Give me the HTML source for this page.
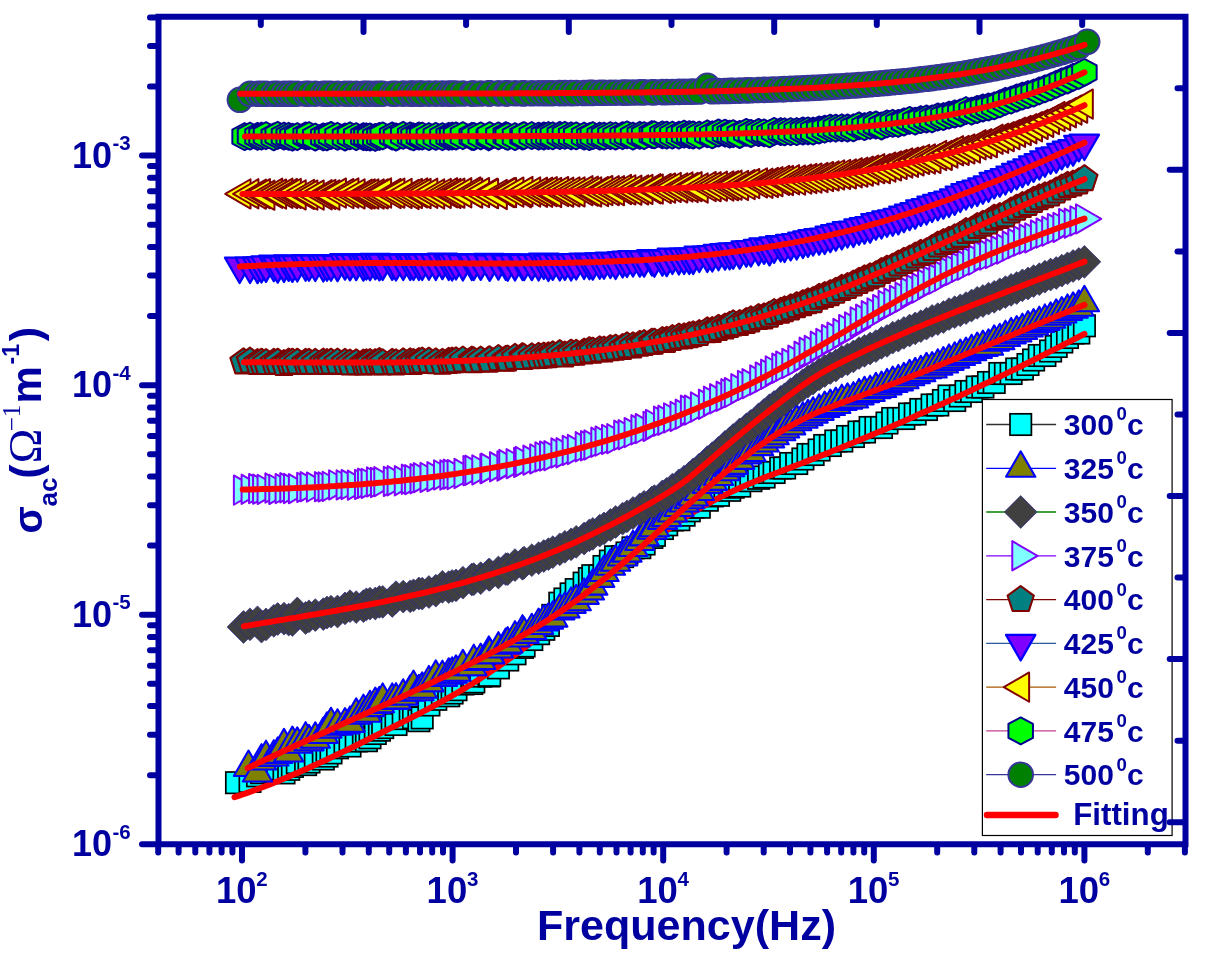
<!DOCTYPE html>
<html><head><meta charset="utf-8"><title>AC conductivity vs frequency</title><style>html,body{margin:0;padding:0;background:#fff}svg{display:block}</style></head><body>
<svg width="1205" height="967" viewBox="0 0 1205 967" font-family="'Liberation Sans', sans-serif" font-weight="bold" fill="#0000a0">
<rect width="1205" height="967" fill="#fff"/>
<defs>
<marker id="m300" markerWidth="1" markerHeight="1" refX="0" refY="0" markerUnits="userSpaceOnUse" overflow="visible"><g fill="#00ffff" stroke="#000000" stroke-width="1.7" stroke-linejoin="miter"><rect x="-10.7" y="-10.7" width="21.4" height="21.4"/></g></marker>
<g id="s300" fill="#00ffff" stroke="#000000" stroke-width="1.7" stroke-linejoin="miter"><rect x="-10.7" y="-10.7" width="21.4" height="21.4"/></g>
<marker id="m325" markerWidth="1" markerHeight="1" refX="0" refY="0" markerUnits="userSpaceOnUse" overflow="visible"><g fill="#808000" stroke="#0000ff" stroke-width="2.1" stroke-linejoin="round"><polygon points="0.00,-16.93 14.65,8.47 -14.65,8.47"/></g></marker>
<g id="s325" fill="#808000" stroke="#0000ff" stroke-width="2.1" stroke-linejoin="round"><polygon points="0.00,-16.93 14.65,8.47 -14.65,8.47"/></g>
<marker id="m350" markerWidth="1" markerHeight="1" refX="0" refY="0" markerUnits="userSpaceOnUse" overflow="visible"><g fill="#404040" stroke="#2a2a8c" stroke-width="0.7" stroke-linejoin="round"><polygon points="0.00,-16.40 16.40,0.00 0.00,16.40 -16.40,0.00"/></g></marker>
<g id="s350" fill="#404040" stroke="#2a2a8c" stroke-width="0.7" stroke-linejoin="round"><polygon points="0.00,-16.40 16.40,0.00 0.00,16.40 -16.40,0.00"/></g>
<marker id="m375" markerWidth="1" markerHeight="1" refX="0" refY="0" markerUnits="userSpaceOnUse" overflow="visible"><g fill="#80ffff" stroke="#8000ff" stroke-width="2.0" stroke-linejoin="round"><polygon points="16.87,0.00 -8.43,-14.65 -8.43,14.65"/></g></marker>
<g id="s375" fill="#80ffff" stroke="#8000ff" stroke-width="2.0" stroke-linejoin="round"><polygon points="16.87,0.00 -8.43,-14.65 -8.43,14.65"/></g>
<marker id="m400" markerWidth="1" markerHeight="1" refX="0" refY="0" markerUnits="userSpaceOnUse" overflow="visible"><g fill="#008080" stroke="#800000" stroke-width="2.1" stroke-linejoin="round"><polygon points="0.00,-13.60 13.12,-4.06 8.11,11.36 -8.11,11.36 -13.12,-4.06"/></g></marker>
<g id="s400" fill="#008080" stroke="#800000" stroke-width="2.1" stroke-linejoin="round"><polygon points="0.00,-13.60 13.12,-4.06 8.11,11.36 -8.11,11.36 -13.12,-4.06"/></g>
<marker id="m425" markerWidth="1" markerHeight="1" refX="0" refY="0" markerUnits="userSpaceOnUse" overflow="visible"><g fill="#8000ff" stroke="#0000ff" stroke-width="2.3" stroke-linejoin="round"><polygon points="0.00,16.93 14.65,-8.47 -14.65,-8.47"/></g></marker>
<g id="s425" fill="#8000ff" stroke="#0000ff" stroke-width="2.3" stroke-linejoin="round"><polygon points="0.00,16.93 14.65,-8.47 -14.65,-8.47"/></g>
<marker id="m450" markerWidth="1" markerHeight="1" refX="0" refY="0" markerUnits="userSpaceOnUse" overflow="visible"><g fill="#ffff00" stroke="#800000" stroke-width="2.0" stroke-linejoin="round"><polygon points="-16.87,0.00 8.43,-14.65 8.43,14.65"/></g></marker>
<g id="s450" fill="#ffff00" stroke="#800000" stroke-width="2.0" stroke-linejoin="round"><polygon points="-16.87,0.00 8.43,-14.65 8.43,14.65"/></g>
<marker id="m475" markerWidth="1" markerHeight="1" refX="0" refY="0" markerUnits="userSpaceOnUse" overflow="visible"><g fill="#00ff00" stroke="#000090" stroke-width="2.0" stroke-linejoin="round"><polygon points="0.00,-13.50 12.25,-7.00 12.25,7.00 0.00,13.50 -12.25,7.00 -12.25,-7.00"/></g></marker>
<g id="s475" fill="#00ff00" stroke="#000090" stroke-width="2.0" stroke-linejoin="round"><polygon points="0.00,-13.50 12.25,-7.00 12.25,7.00 0.00,13.50 -12.25,7.00 -12.25,-7.00"/></g>
<marker id="m500" markerWidth="1" markerHeight="1" refX="0" refY="0" markerUnits="userSpaceOnUse" overflow="visible"><g fill="#008000" stroke="#363698" stroke-width="2.0" stroke-linejoin="round"><circle r="12.3"/></g></marker>
<g id="s500" fill="#008000" stroke="#363698" stroke-width="2.0" stroke-linejoin="round"><circle r="12.3"/></g>
</defs>
<clipPath id="cp"><rect x="158.5" y="16.7" width="1027.0" height="827.5999999999999"/></clipPath>
<polyline fill="none" stroke="#303030" stroke-width="1" marker-start="url(#m300)" marker-mid="url(#m300)" marker-end="url(#m300)" points="236.5,782.7 250.0,781.4 257.5,775.8 261.5,772.7 266.0,769.3 273.8,772.1 277.7,769.1 284.0,772.9 288.7,769.3 292.4,766.4 297.3,762.6 305.6,764.6 309.0,762.0 315.3,757.0 323.3,759.0 327.0,756.1 331.0,752.9 337.5,747.8 345.0,741.9 350.0,746.0 356.2,741.0 363.4,735.3 366.4,740.7 370.0,737.8 375.3,733.5 379.4,730.2 382.7,727.6 392.2,719.9 396.0,724.5 403.2,718.6 410.2,712.8 413.5,717.7 418.9,720.7 422.2,717.9 428.9,705.0 435.8,699.3 442.4,693.8 448.7,695.8 452.1,693.0 456.0,689.7 462.9,684.0 471.8,683.5 473.8,681.9 480.7,676.1 488.8,676.0 489.7,675.3 498.4,667.9 505.8,654.9 507.7,660.0 515.0,653.8 522.5,647.4 524.1,646.0 531.8,639.5 538.6,633.7 543.8,629.3 548.4,625.4 552.8,615.4 559.8,603.2 564.9,599.0 571.1,593.9 576.2,589.6 584.1,583.1 589.4,578.6 592.8,575.7 599.7,575.9 604.0,566.5 610.4,561.1 615.6,556.8 622.6,556.6 627.0,553.0 633.0,547.9 639.8,547.7 644.1,544.0 651.9,537.4 654.4,535.3 662.4,528.5 666.7,524.8 672.4,520.0 678.9,519.7 684.1,515.2 689.3,510.8 693.2,507.3 699.3,507.2 707.3,500.2 712.3,495.9 718.5,495.3 725.0,489.6 729.7,490.3 733.2,487.2 739.7,486.1 746.3,480.2 750.9,480.7 758.6,478.3 764.1,477.0 769.5,472.5 774.1,472.5 780.7,468.0 784.6,468.0 790.7,463.5 796.7,463.5 802.9,459.0 808.0,454.5 813.1,454.5 819.1,450.0 824.7,445.5 830.3,445.5 835.8,441.0 841.8,441.0 847.5,436.5 853.4,436.5 859.0,432.0 864.5,432.0 870.1,427.5 875.9,427.5 881.5,427.5 887.0,423.0 892.7,418.5 898.3,418.5 903.9,418.5 909.6,414.0 915.2,414.0 920.8,409.5 926.5,409.5 932.1,405.0 937.8,405.0 943.4,400.5 949.0,396.0 954.7,400.5 960.3,396.0 966.0,391.5 971.6,391.5 977.2,387.0 982.9,387.0 988.5,382.5 994.2,382.5 999.8,373.5 1005.4,373.5 1011.1,373.5 1016.7,369.0 1022.4,369.0 1028.0,364.5 1033.6,360.0 1039.3,355.5 1044.9,355.5 1050.6,351.0 1056.2,346.5 1061.8,342.0 1067.5,337.5 1073.1,333.0 1078.8,333.0 1084.4,325.8"/>
<polyline fill="none" stroke="#ff0000" stroke-width="6" stroke-linecap="round" stroke-linejoin="round" points="234.5,797.2 238.5,795.9 242.5,794.5 246.5,793.1 250.5,791.7 254.5,790.2 258.5,788.7 262.5,787.2 266.5,785.7 270.5,784.1 274.5,782.5 278.5,780.9 282.5,779.2 286.5,777.5 290.5,775.9 294.5,774.1 298.5,772.4 302.5,770.6 306.5,768.9 310.5,767.1 314.5,765.3 318.5,763.4 322.5,761.6 326.5,759.7 330.5,757.8 334.5,755.9 338.5,754.0 342.5,752.1 346.5,750.2 350.5,748.2 354.5,746.2 358.5,744.3 362.5,742.3 366.5,740.3 370.5,738.3 374.5,736.3 378.5,734.3 382.5,732.3 386.5,730.3 390.5,728.2 394.5,726.2 398.5,724.2 402.5,722.1 406.5,720.1 410.5,718.1 414.5,716.0 418.5,714.0 422.5,711.9 426.5,709.8 430.5,707.7 434.5,705.5 438.5,703.4 442.5,701.2 446.5,698.9 450.5,696.7 454.5,694.4 458.5,692.0 462.5,689.7 466.5,687.2 470.5,684.8 474.5,682.3 478.5,679.7 482.5,677.1 486.5,674.5 490.5,671.8 494.5,669.1 498.5,666.4 502.5,663.6 506.5,660.8 510.5,658.0 514.5,655.1 518.5,652.2 522.5,649.2 526.5,646.2 530.5,643.2 534.5,640.2 538.5,637.1 542.5,634.0 546.5,630.9 550.5,627.7 554.5,624.5 558.5,621.3 562.5,618.1 566.5,614.8 570.5,611.5 574.5,608.2 578.5,604.8 582.5,601.5 586.5,598.1 590.5,594.7 594.5,591.3 598.5,587.8 602.5,584.4 606.5,580.9 610.5,577.4 614.5,573.9 618.5,570.4 622.5,567.0 626.5,563.5 630.5,560.0 634.5,556.6 638.5,553.2 642.5,549.8 646.5,546.5 650.5,543.2 654.5,540.0 658.5,536.8 662.5,533.7 666.5,530.6 670.5,527.7 674.5,524.8 678.5,521.9 682.5,519.2 686.5,516.5 690.5,514.0 694.5,511.5 698.5,509.1 702.5,506.7 706.5,504.5 710.5,502.3 714.5,500.2 718.5,498.1 722.5,496.1 726.5,494.1 730.5,492.2 734.5,490.4 738.5,488.5 742.5,486.8 746.5,485.0 750.5,483.3 754.5,481.7 758.5,480.0 762.5,478.4 766.5,476.8 770.5,475.3 774.5,473.7 778.5,472.2 782.5,470.6 786.5,469.1 790.5,467.6 794.5,466.0 798.5,464.5 802.5,463.0 806.5,461.4 810.5,459.9 814.5,458.3 818.5,456.7 822.5,455.1 826.5,453.6 830.5,452.0 834.5,450.3 838.5,448.7 842.5,447.1 846.5,445.5 850.5,443.8 854.5,442.2 858.5,440.5 862.5,438.9 866.5,437.2 870.5,435.5 874.5,433.8 878.5,432.1 882.5,430.4 886.5,428.7 890.5,427.0 894.5,425.2 898.5,423.5 902.5,421.7 906.5,420.0 910.5,418.2 914.5,416.4 918.5,414.6 922.5,412.8 926.5,411.0 930.5,409.2 934.5,407.4 938.5,405.6 942.5,403.8 946.5,401.9 950.5,400.1 954.5,398.2 958.5,396.4 962.5,394.5 966.5,392.6 970.5,390.7 974.5,388.8 978.5,386.9 982.5,385.0 986.5,383.1 990.5,381.2 994.5,379.2 998.5,377.3 1002.5,375.4 1006.5,373.4 1010.5,371.4 1014.5,369.5 1018.5,367.5 1022.5,365.5 1026.5,363.5 1030.5,361.5 1034.5,359.5 1038.5,357.5 1042.5,355.5 1046.5,353.4 1050.5,351.4 1054.5,349.4 1058.5,347.3 1062.5,345.3 1066.5,343.2 1070.5,341.1 1074.5,339.1 1078.5,337.0 1084.5,333.8"/>
<polyline fill="none" stroke="#0000ff" stroke-width="1" marker-start="url(#m325)" marker-mid="url(#m325)" marker-end="url(#m325)" points="248.5,767.5 257.5,773.0 261.5,761.1 266.0,757.6 273.8,757.1 277.7,754.4 284.0,745.8 288.7,753.0 292.4,743.5 297.3,744.3 305.6,739.1 309.0,741.9 315.3,739.3 323.3,734.5 327.0,729.2 331.0,724.7 337.5,726.2 345.0,725.0 350.0,723.4 356.2,715.3 363.4,711.6 366.4,713.3 370.0,707.7 375.3,704.5 379.4,703.8 382.7,700.4 392.2,700.4 396.0,700.1 403.2,696.2 410.2,692.2 413.5,687.5 418.9,691.8 422.2,689.3 428.9,682.9 435.8,677.3 442.4,677.6 448.7,675.2 452.1,674.2 456.0,672.3 462.9,666.8 471.8,666.8 473.8,661.6 480.7,660.5 488.8,653.4 489.7,654.9 498.4,649.1 505.8,645.2 507.7,644.1 515.0,638.1 522.5,632.1 524.1,634.4 531.8,630.7 538.6,625.5 543.8,622.0 548.4,620.2 552.8,618.2 559.8,610.9 564.9,609.1 571.1,604.4 576.2,601.8 584.1,595.4 589.4,591.0 592.8,586.2 599.7,578.4 604.0,572.5 610.4,566.3 615.6,562.3 622.6,557.1 627.0,553.2 633.0,547.6 639.8,541.5 644.1,536.9 651.9,530.3 654.4,527.8 662.4,520.4 666.7,517.7 672.4,513.0 678.9,507.5 684.1,503.1 689.3,499.8 693.2,497.0 699.3,491.5 707.3,484.4 712.3,481.4 718.5,476.6 725.0,471.8 729.7,467.8 733.2,465.4 739.7,460.4 746.3,454.9 750.9,452.5 758.6,446.7 764.1,443.0 769.5,438.9 774.1,435.8 780.7,431.8 784.6,429.0 790.7,425.9 796.7,421.8 802.9,419.3 808.0,416.8 813.1,414.2 819.1,411.4 824.7,408.5 830.3,406.5 835.8,404.5 841.8,401.6 847.5,400.3 853.4,399.1 859.0,395.9 864.5,393.7 870.1,392.6 875.9,389.7 881.5,388.5 887.0,385.9 892.7,383.5 898.3,381.9 903.9,379.8 909.6,376.8 915.2,374.8 920.8,372.7 926.5,369.8 932.1,369.0 937.8,366.2 943.4,364.0 949.0,361.4 954.7,359.2 960.3,356.5 966.0,354.5 971.6,351.7 977.2,349.5 982.9,347.5 988.5,346.3 994.2,342.3 999.8,340.7 1005.4,337.6 1011.1,334.9 1016.7,333.0 1022.4,330.6 1028.0,328.0 1033.6,326.0 1039.3,323.6 1044.9,321.4 1050.6,319.3 1056.2,316.3 1061.8,314.0 1067.5,311.4 1073.1,309.3 1078.8,307.3 1084.4,302.8"/>
<polyline fill="none" stroke="#008000" stroke-width="1" marker-start="url(#m350)" marker-mid="url(#m350)" marker-end="url(#m350)" points="243.5,627.0 250.0,624.3 257.5,622.3 261.5,626.6 266.0,624.4 273.8,620.8 277.7,619.0 284.0,618.7 288.7,619.6 292.4,620.0 297.3,613.5 305.6,618.0 309.0,616.3 315.3,615.1 323.3,614.1 327.0,612.5 331.0,611.7 337.5,611.5 345.0,608.4 350.0,606.2 356.2,607.1 363.4,606.2 366.4,604.3 370.0,603.7 375.3,603.5 379.4,601.9 382.7,601.9 392.2,601.0 396.0,597.2 403.2,596.6 410.2,596.3 413.5,595.3 418.9,593.5 422.2,593.6 428.9,592.0 435.8,590.7 442.4,586.8 448.7,587.1 452.1,586.0 456.0,585.4 462.9,582.7 471.8,579.5 473.8,579.2 480.7,578.2 488.8,574.6 489.7,574.8 498.4,572.5 505.8,569.2 507.7,569.1 515.0,565.1 522.5,563.8 524.1,562.6 531.8,560.2 538.6,558.2 543.8,556.0 548.4,554.2 552.8,552.2 559.8,549.3 564.9,546.8 571.1,544.3 576.2,541.8 584.1,538.5 589.4,535.4 592.8,533.9 599.7,530.7 604.0,528.4 610.4,525.0 615.6,522.0 622.6,518.6 627.0,516.3 633.0,513.0 639.8,509.4 644.1,506.8 651.9,502.5 654.4,501.1 662.4,496.3 666.7,493.8 672.4,489.6 678.9,485.3 684.1,481.7 689.3,478.0 693.2,474.4 699.3,469.5 707.3,462.1 712.3,458.2 718.5,452.8 725.0,446.9 729.7,443.3 733.2,440.0 739.7,434.3 746.3,429.4 750.9,425.8 758.6,419.3 764.1,414.8 769.5,410.2 774.1,406.9 780.7,401.9 784.6,399.3 790.7,394.1 796.7,389.7 802.9,385.1 808.0,381.5 813.1,378.5 819.1,374.4 824.7,371.0 830.3,368.0 835.8,365.5 841.8,361.6 847.5,359.3 853.4,356.4 859.0,353.1 864.5,350.8 870.1,348.5 875.9,346.1 881.5,342.9 887.0,340.9 892.7,337.6 898.3,335.7 903.9,332.9 909.6,330.5 915.2,328.4 920.8,326.2 926.5,323.7 932.1,321.0 937.8,319.1 943.4,317.0 949.0,314.1 954.7,312.2 960.3,310.3 966.0,308.1 971.6,305.5 977.2,302.8 982.9,301.0 988.5,298.7 994.2,296.8 999.8,294.3 1005.4,292.1 1011.1,289.9 1016.7,288.0 1022.4,285.3 1028.0,283.5 1033.6,281.1 1039.3,279.2 1044.9,276.7 1050.6,274.5 1056.2,273.0 1061.8,270.6 1067.5,268.3 1073.1,266.0 1078.8,264.0 1084.4,261.8"/>
<polyline fill="none" stroke="#8000ff" stroke-width="1" marker-start="url(#m375)" marker-mid="url(#m375)" marker-end="url(#m375)" points="242.3,490.1 250.0,489.3 257.5,488.6 261.5,489.2 266.0,489.4 273.8,488.0 277.7,489.4 284.0,488.6 288.7,487.8 292.4,488.5 297.3,488.7 305.6,487.4 309.0,486.7 315.3,487.1 323.3,486.7 327.0,486.9 331.0,486.4 337.5,484.9 345.0,484.9 350.0,484.6 356.2,485.2 363.4,484.4 366.4,483.3 370.0,483.4 375.3,481.9 379.4,482.5 382.7,481.7 392.2,481.4 396.0,480.8 403.2,480.8 410.2,479.3 413.5,479.7 418.9,478.8 422.2,477.7 428.9,477.4 435.8,476.7 442.4,474.9 448.7,475.0 452.1,474.2 456.0,474.6 462.9,473.5 471.8,470.7 473.8,470.3 480.7,469.9 488.8,468.7 489.7,468.2 498.4,466.8 505.8,466.0 507.7,464.5 515.0,463.7 522.5,462.4 524.1,461.5 531.8,460.2 538.6,458.9 543.8,456.9 548.4,456.1 552.8,455.7 559.8,453.0 564.9,452.8 571.1,450.4 576.2,449.5 584.1,446.8 589.4,445.8 592.8,445.0 599.7,442.3 604.0,441.1 610.4,439.4 615.6,438.7 622.6,435.2 627.0,434.7 633.0,432.6 639.8,429.8 644.1,428.6 651.9,426.4 654.4,424.4 662.4,421.2 666.7,420.3 672.4,417.9 678.9,416.4 684.1,414.2 689.3,410.3 693.2,410.1 699.3,407.0 707.3,404.3 712.3,401.2 718.5,398.8 725.0,396.3 729.7,393.8 733.2,392.6 739.7,388.8 746.3,385.4 750.9,383.7 758.6,380.0 764.1,377.1 769.5,374.3 774.1,370.9 780.7,368.2 784.6,366.1 790.7,363.5 796.7,360.3 802.9,356.2 808.0,352.2 813.1,350.5 819.1,346.3 824.7,343.5 830.3,339.6 835.8,337.3 841.8,333.5 847.5,329.6 853.4,327.0 859.0,321.9 864.5,319.2 870.1,315.7 875.9,313.0 881.5,309.6 887.0,305.4 892.7,303.0 898.3,300.2 903.9,297.2 909.6,292.6 915.2,289.8 920.8,288.1 926.5,284.3 932.1,281.2 937.8,279.1 943.4,276.1 949.0,272.2 954.7,270.2 960.3,267.3 966.0,265.2 971.6,262.1 977.2,260.1 982.9,256.0 988.5,255.1 994.2,253.6 999.8,250.8 1005.4,249.0 1011.1,246.1 1016.7,243.5 1022.4,241.0 1028.0,239.0 1033.6,237.9 1039.3,235.0 1044.9,233.1 1050.6,231.2 1056.2,228.6 1061.8,227.4 1067.5,223.6 1073.1,223.2 1078.8,220.9 1084.4,218.9"/>
<polyline fill="none" stroke="#800000" stroke-width="1" marker-start="url(#m400)" marker-mid="url(#m400)" marker-end="url(#m400)" points="243.5,362.0 250.0,361.2 257.5,362.7 261.5,362.3 266.0,362.6 273.8,362.4 277.7,362.3 284.0,363.7 288.7,362.2 292.4,362.3 297.3,362.3 305.6,362.4 309.0,362.4 315.3,362.4 323.3,362.1 327.0,362.7 331.0,362.3 337.5,362.1 345.0,362.5 350.0,363.2 356.2,362.9 363.4,363.2 366.4,362.9 370.0,362.7 375.3,362.8 379.4,361.7 382.7,363.0 392.2,362.5 396.0,363.0 403.2,362.0 410.2,362.0 413.5,362.6 418.9,361.6 422.2,361.2 428.9,361.3 435.8,361.9 442.4,362.4 448.7,361.5 452.1,361.2 456.0,360.9 462.9,360.1 471.8,360.1 473.8,360.9 480.7,360.2 488.8,360.2 489.7,360.0 498.4,358.6 505.8,359.4 507.7,359.2 515.0,357.5 522.5,356.8 524.1,357.6 531.8,356.9 538.6,356.5 543.8,356.1 548.4,355.9 552.8,354.9 559.8,353.7 564.9,355.1 571.1,353.3 576.2,353.4 584.1,352.2 589.4,350.8 592.8,351.3 599.7,349.9 604.0,350.2 610.4,348.8 615.6,348.3 622.6,347.7 627.0,345.9 633.0,346.0 639.8,344.4 644.1,343.7 651.9,342.3 654.4,342.3 662.4,340.6 666.7,340.5 672.4,338.7 678.9,337.2 684.1,336.9 689.3,335.8 693.2,334.9 699.3,333.7 707.3,330.9 712.3,330.7 718.5,328.5 725.0,327.2 729.7,325.5 733.2,324.0 739.7,323.6 746.3,321.6 750.9,320.0 758.6,317.7 764.1,317.0 769.5,315.3 774.1,312.6 780.7,311.4 784.6,309.9 790.7,308.0 796.7,305.8 802.9,303.8 808.0,301.9 813.1,300.8 819.1,297.4 824.7,295.7 830.3,293.8 835.8,291.4 841.8,288.5 847.5,286.6 853.4,284.1 859.0,281.5 864.5,279.0 870.1,277.0 875.9,275.0 881.5,271.7 887.0,269.3 892.7,267.3 898.3,264.1 903.9,261.5 909.6,259.1 915.2,256.2 920.8,253.5 926.5,252.0 932.1,248.7 937.8,245.2 943.4,242.6 949.0,240.5 954.7,237.9 960.3,235.5 966.0,231.6 971.6,230.4 977.2,226.7 982.9,224.4 988.5,222.2 994.2,218.3 999.8,216.7 1005.4,215.0 1011.1,211.1 1016.7,208.3 1022.4,205.7 1028.0,203.6 1033.6,200.5 1039.3,197.9 1044.9,195.9 1050.6,194.2 1056.2,191.1 1061.8,188.2 1067.5,185.5 1073.1,184.1 1078.8,182.0 1084.4,178.8"/>
<polyline fill="none" stroke="#2a5a9a" stroke-width="1" marker-start="url(#m425)" marker-mid="url(#m425)" marker-end="url(#m425)" points="239.6,266.1 250.0,266.1 257.5,266.2 261.5,265.5 266.0,264.9 273.8,264.2 277.7,265.7 284.0,265.0 288.7,263.9 292.4,264.9 297.3,264.6 305.6,263.8 309.0,263.8 315.3,264.1 323.3,264.5 327.0,263.8 331.0,263.8 337.5,264.2 345.0,262.7 350.0,263.4 356.2,263.2 363.4,263.7 366.4,262.6 370.0,263.3 375.3,262.4 379.4,263.4 382.7,263.0 392.2,262.9 396.0,263.6 403.2,263.0 410.2,263.1 413.5,263.1 418.9,263.1 422.2,263.0 428.9,262.8 435.8,263.0 442.4,262.2 448.7,263.1 452.1,263.6 456.0,262.6 462.9,263.5 471.8,263.1 473.8,263.0 480.7,262.9 488.8,262.3 489.7,263.9 498.4,262.7 505.8,262.9 507.7,263.8 515.0,263.6 522.5,263.1 524.1,263.2 531.8,263.2 538.6,263.5 543.8,262.0 548.4,264.0 552.8,262.9 559.8,263.6 564.9,262.9 571.1,263.5 576.2,262.6 584.1,262.0 589.4,262.3 592.8,262.7 599.7,261.8 604.0,261.8 610.4,261.1 615.6,262.1 622.6,260.5 627.0,260.1 633.0,259.6 639.8,259.7 644.1,259.7 651.9,258.5 654.4,259.8 662.4,258.7 666.7,259.2 672.4,257.0 678.9,257.5 684.1,257.1 689.3,257.0 693.2,257.0 699.3,255.1 707.3,255.1 712.3,254.5 718.5,253.3 725.0,252.7 729.7,252.4 733.2,251.8 739.7,251.7 746.3,249.8 750.9,249.6 758.6,248.3 764.1,246.9 769.5,248.4 774.1,245.9 780.7,244.5 784.6,245.1 790.7,243.4 796.7,242.5 802.9,241.0 808.0,239.9 813.1,238.6 819.1,237.7 824.7,237.1 830.3,235.2 835.8,233.7 841.8,232.4 847.5,230.5 853.4,230.0 859.0,227.8 864.5,226.7 870.1,225.7 875.9,222.7 881.5,221.6 887.0,219.8 892.7,218.8 898.3,217.4 903.9,215.2 909.6,213.2 915.2,211.7 920.8,208.9 926.5,207.6 932.1,205.1 937.8,203.4 943.4,201.7 949.0,200.0 954.7,197.9 960.3,195.1 966.0,192.5 971.6,190.6 977.2,189.0 982.9,186.8 988.5,184.8 994.2,181.4 999.8,179.7 1005.4,177.6 1011.1,175.1 1016.7,172.4 1022.4,170.2 1028.0,167.8 1033.6,164.9 1039.3,162.6 1044.9,159.8 1050.6,156.8 1056.2,155.8 1061.8,152.4 1067.5,150.2 1073.1,148.7 1078.8,144.4 1084.4,143.1"/>
<polyline fill="none" stroke="#a85800" stroke-width="1" marker-start="url(#m450)" marker-mid="url(#m450)" marker-end="url(#m450)" points="242.1,193.9 250.0,193.8 257.5,194.2 261.5,193.7 266.0,195.2 273.8,193.3 277.7,194.1 284.0,193.3 288.7,193.6 292.4,193.4 297.3,194.9 305.6,194.4 309.0,195.1 315.3,195.1 323.3,194.8 327.0,194.4 331.0,195.0 337.5,193.1 345.0,193.6 350.0,193.0 356.2,193.9 363.4,194.2 366.4,193.9 370.0,194.0 375.3,194.0 379.4,193.9 382.7,193.0 392.2,193.6 396.0,193.2 403.2,193.4 410.2,194.5 413.5,193.5 418.9,192.9 422.2,193.5 428.9,193.3 435.8,194.0 442.4,193.4 448.7,192.8 452.1,193.4 456.0,193.2 462.9,192.8 471.8,192.0 473.8,193.1 480.7,192.6 488.8,193.2 489.7,193.6 498.4,194.5 505.8,192.7 507.7,192.6 515.0,192.1 522.5,192.8 524.1,191.5 531.8,192.0 538.6,192.3 543.8,192.3 548.4,191.7 552.8,192.5 559.8,191.6 564.9,192.2 571.1,191.9 576.2,191.9 584.1,190.7 589.4,191.2 592.8,191.9 599.7,191.6 604.0,190.6 610.4,190.7 615.6,190.7 622.6,189.5 627.0,189.9 633.0,190.2 639.8,189.9 644.1,189.4 651.9,188.8 654.4,189.1 662.4,188.6 666.7,188.1 672.4,187.4 678.9,187.9 684.1,187.0 689.3,187.5 693.2,186.7 699.3,188.0 707.3,186.6 712.3,186.7 718.5,186.2 725.0,186.0 729.7,185.7 733.2,185.2 739.7,185.4 746.3,184.6 750.9,183.6 758.6,182.9 764.1,183.3 769.5,182.5 774.1,181.7 780.7,180.4 784.6,180.5 790.7,179.8 796.7,180.1 802.9,179.1 808.0,178.5 813.1,178.1 819.1,177.5 824.7,176.6 830.3,175.9 835.8,174.9 841.8,174.4 847.5,173.9 853.4,172.8 859.0,172.2 864.5,171.2 870.1,170.1 875.9,168.7 881.5,168.7 887.0,167.1 892.7,165.9 898.3,164.4 903.9,163.0 909.6,162.3 915.2,160.9 920.8,159.4 926.5,159.0 932.1,158.4 937.8,155.5 943.4,155.4 949.0,153.0 954.7,150.8 960.3,150.4 966.0,148.9 971.6,148.0 977.2,144.8 982.9,143.7 988.5,142.7 994.2,139.3 999.8,138.3 1005.4,136.7 1011.1,134.7 1016.7,132.3 1022.4,130.5 1028.0,128.8 1033.6,126.8 1039.3,124.4 1044.9,122.4 1050.6,119.5 1056.2,116.6 1061.8,115.6 1067.5,112.8 1073.1,110.1 1078.8,108.2 1084.4,104.1"/>
<polyline fill="none" stroke="#c04090" stroke-width="1" marker-start="url(#m475)" marker-mid="url(#m475)" marker-end="url(#m475)" points="244.6,136.6 250.0,136.1 257.5,136.3 261.5,136.1 266.0,135.7 273.8,136.8 277.7,135.3 284.0,136.1 288.7,136.3 292.4,137.2 297.3,136.7 305.6,136.0 309.0,135.7 315.3,137.1 323.3,136.9 327.0,136.9 331.0,135.5 337.5,136.3 345.0,137.0 350.0,135.8 356.2,136.7 363.4,136.7 366.4,136.8 370.0,137.0 375.3,137.4 379.4,136.4 382.7,135.9 392.2,136.0 396.0,137.0 403.2,135.3 410.2,135.9 413.5,136.8 418.9,136.0 422.2,136.1 428.9,136.6 435.8,136.3 442.4,136.7 448.7,136.3 452.1,136.1 456.0,136.0 462.9,135.7 471.8,136.3 473.8,136.5 480.7,135.9 488.8,136.9 489.7,135.7 498.4,135.9 505.8,135.7 507.7,136.3 515.0,136.6 522.5,136.1 524.1,135.7 531.8,135.6 538.6,136.2 543.8,136.0 548.4,135.6 552.8,135.8 559.8,135.5 564.9,135.3 571.1,135.8 576.2,135.8 584.1,136.1 589.4,136.6 592.8,135.6 599.7,136.1 604.0,136.2 610.4,135.7 615.6,136.1 622.6,135.7 627.0,134.9 633.0,136.1 639.8,135.3 644.1,135.7 651.9,134.6 654.4,134.8 662.4,134.9 666.7,135.2 672.4,135.1 678.9,135.2 684.1,134.2 689.3,134.7 693.2,135.0 699.3,135.2 707.3,133.8 712.3,134.8 718.5,133.0 725.0,133.2 729.7,134.2 733.2,133.7 739.7,134.5 746.3,132.4 750.9,133.5 758.6,132.5 764.1,132.9 769.5,133.8 774.1,131.4 780.7,131.6 784.6,131.8 790.7,131.7 796.7,131.6 802.9,131.0 808.0,130.9 813.1,131.1 819.1,130.0 824.7,129.2 830.3,128.2 835.8,128.2 841.8,127.8 847.5,128.0 853.4,127.8 859.0,125.8 864.5,126.6 870.1,125.4 875.9,125.0 881.5,126.0 887.0,123.9 892.7,123.3 898.3,123.4 903.9,122.0 909.6,120.4 915.2,121.2 920.8,119.6 926.5,119.0 932.1,118.9 937.8,117.0 943.4,116.6 949.0,115.1 954.7,114.0 960.3,113.0 966.0,110.6 971.6,111.2 977.2,109.5 982.9,108.0 988.5,107.0 994.2,105.8 999.8,103.8 1005.4,101.3 1011.1,100.1 1016.7,98.0 1022.4,96.1 1028.0,94.6 1033.6,93.1 1039.3,90.9 1044.9,88.8 1050.6,86.8 1056.2,84.3 1061.8,81.8 1067.5,80.0 1073.1,77.3 1078.8,75.3 1084.4,72.3"/>
<polyline fill="none" stroke="#363698" stroke-width="1" marker-start="url(#m500)" marker-mid="url(#m500)" marker-end="url(#m500)" points="239.9,99.8 250.0,93.8 257.5,93.8 261.5,93.8 266.0,93.8 273.8,93.8 277.7,93.8 284.0,93.8 288.7,93.8 292.4,93.8 297.3,93.7 305.6,93.7 309.0,93.7 315.3,93.7 323.3,93.7 327.0,93.7 331.0,93.7 337.5,93.7 345.0,93.7 350.0,93.7 356.2,93.7 363.4,93.7 366.4,93.7 370.0,93.7 375.3,93.7 379.4,93.7 382.7,93.7 392.2,93.7 396.0,93.7 403.2,93.6 410.2,93.6 413.5,93.6 418.9,93.6 422.2,93.6 428.9,93.6 435.8,93.6 442.4,93.6 448.7,93.6 452.1,93.5 456.0,93.5 462.9,93.5 471.8,93.5 473.8,93.5 480.7,93.5 488.8,93.4 489.7,93.4 498.4,93.4 505.8,93.4 507.7,93.4 515.0,93.3 522.5,93.3 524.1,93.3 531.8,93.3 538.6,93.2 543.8,93.2 548.4,93.2 552.8,93.2 559.8,93.1 564.9,93.1 571.1,93.1 576.2,93.0 584.1,93.0 589.4,92.9 592.8,92.9 599.7,92.8 604.0,92.8 610.4,92.7 615.6,92.7 622.6,92.6 627.0,92.6 633.0,92.5 639.8,92.4 644.1,92.4 651.9,92.3 654.4,92.3 662.4,92.1 666.7,92.1 672.4,92.0 678.9,91.9 684.1,91.8 689.3,91.7 693.2,91.6 699.3,91.5 707.3,85.9 712.3,91.3 718.5,91.1 725.0,91.0 729.7,90.9 733.2,90.8 739.7,90.6 746.3,90.4 750.9,90.3 758.6,90.0 764.1,89.9 769.5,89.7 774.1,89.5 780.7,89.3 784.6,89.1 790.7,88.9 796.7,88.6 802.9,88.3 808.0,88.1 813.1,87.9 819.1,87.6 824.7,87.3 830.3,86.9 835.8,86.6 841.8,86.3 847.5,85.9 853.4,85.5 859.0,85.1 864.5,84.7 870.1,84.3 875.9,83.8 881.5,83.3 887.0,82.9 892.7,82.3 898.3,81.8 903.9,81.2 909.6,80.7 915.2,80.1 920.8,79.4 926.5,78.8 932.1,78.1 937.8,77.3 943.4,76.6 949.0,75.8 954.7,75.0 960.3,74.2 966.0,73.3 971.6,72.4 977.2,71.4 982.9,70.4 988.5,69.4 994.2,68.3 999.8,67.2 1005.4,66.1 1011.1,64.9 1016.7,63.6 1022.4,62.3 1028.0,61.0 1033.6,59.6 1039.3,58.2 1044.9,56.7 1050.6,55.2 1056.2,53.6 1061.8,52.0 1067.5,50.3 1073.1,48.6 1078.8,46.8 1087.2,41.8"/>
<polyline fill="none" stroke="#ff0000" stroke-width="6" stroke-linecap="round" stroke-linejoin="round" points="247.6,768.1 251.6,766.2 255.6,764.3 259.6,762.4 263.6,760.5 267.6,758.6 271.6,756.7 275.6,754.9 279.6,753.0 283.6,751.1 287.6,749.3 291.6,747.4 295.6,745.6 299.6,743.7 303.6,741.9 307.6,740.1 311.6,738.2 315.6,736.4 319.6,734.6 323.6,732.7 327.6,730.9 331.6,729.1 335.6,727.3 339.6,725.4 343.6,723.6 347.6,721.8 351.6,720.0 355.6,718.1 359.6,716.3 363.6,714.5 367.6,712.7 371.6,710.8 375.6,709.0 379.6,707.1 383.6,705.3 387.6,703.5 391.6,701.6 395.6,699.7 399.6,697.9 403.6,696.0 407.6,694.1 411.6,692.3 415.6,690.4 419.6,688.5 423.6,686.6 427.6,684.7 431.6,682.8 435.6,680.8 439.6,678.9 443.6,677.0 447.6,675.0 451.6,673.0 455.6,671.1 459.6,669.1 463.6,667.1 467.6,665.1 471.6,663.1 475.6,661.0 479.6,659.0 483.6,656.9 487.6,654.8 491.6,652.7 495.6,650.6 499.6,648.4 503.6,646.2 507.6,644.0 511.6,641.8 515.6,639.5 519.6,637.2 523.6,634.9 527.6,632.5 531.6,630.1 535.6,627.7 539.6,625.2 543.6,622.7 547.6,620.2 551.6,617.6 555.6,615.0 559.6,612.3 563.6,609.5 567.6,606.8 571.6,603.9 575.6,601.1 579.6,598.1 583.6,595.2 587.6,592.1 591.6,589.0 595.6,585.9 599.6,582.7 603.6,579.5 607.6,576.2 611.6,572.8 615.6,569.4 619.6,566.0 623.6,562.6 627.6,559.1 631.6,555.6 635.6,552.0 639.6,548.5 643.6,544.9 647.6,541.3 651.6,537.7 655.6,534.1 659.6,530.4 663.6,526.8 667.6,523.2 671.6,519.6 675.6,515.9 679.6,512.3 683.6,508.7 687.6,505.1 691.6,501.5 695.6,498.0 699.6,494.4 703.6,490.9 707.6,487.5 711.6,484.0 715.6,480.6 719.6,477.2 723.6,473.8 727.6,470.5 731.6,467.3 735.6,464.0 739.6,460.9 743.6,457.8 747.6,454.7 751.6,451.7 755.6,448.7 759.6,445.8 763.6,443.0 767.6,440.3 771.6,437.6 775.6,434.9 779.6,432.4 783.6,429.9 787.6,427.6 791.6,425.3 795.6,423.1 799.6,420.9 803.6,418.9 807.6,416.9 811.6,415.1 815.6,413.3 819.6,411.5 823.6,409.9 827.6,408.2 831.6,406.7 835.6,405.1 839.6,403.6 843.6,402.1 847.6,400.7 851.6,399.2 855.6,397.7 859.6,396.3 863.6,394.8 867.6,393.3 871.6,391.8 875.6,390.3 879.6,388.8 883.6,387.3 887.6,385.8 891.6,384.2 895.6,382.7 899.6,381.1 903.6,379.5 907.6,378.0 911.6,376.4 915.6,374.8 919.6,373.2 923.6,371.6 927.6,370.0 931.6,368.4 935.6,366.7 939.6,365.1 943.6,363.5 947.6,361.8 951.6,360.2 955.6,358.6 959.6,356.9 963.6,355.3 967.6,353.6 971.6,351.9 975.6,350.3 979.6,348.6 983.6,346.9 987.6,345.3 991.6,343.6 995.6,341.9 999.6,340.2 1003.6,338.5 1007.6,336.9 1011.6,335.2 1015.6,333.5 1019.6,331.8 1023.6,330.2 1027.6,328.5 1031.6,326.8 1035.6,325.1 1039.6,323.4 1043.6,321.8 1047.6,320.1 1051.6,318.4 1055.6,316.8 1059.6,315.1 1063.6,313.5 1067.6,311.8 1071.6,310.1 1075.6,308.5 1079.6,306.9 1084.5,304.9"/>
<polyline fill="none" stroke="#ff0000" stroke-width="6" stroke-linecap="round" stroke-linejoin="round" points="243.9,626.3 247.9,625.6 251.9,624.9 255.9,624.3 259.9,623.6 263.9,622.9 267.9,622.2 271.9,621.6 275.9,620.9 279.9,620.2 283.9,619.6 287.9,618.9 291.9,618.2 295.9,617.6 299.9,616.9 303.9,616.2 307.9,615.5 311.9,614.8 315.9,614.2 319.9,613.5 323.9,612.8 327.9,612.1 331.9,611.4 335.9,610.7 339.9,609.9 343.9,609.2 347.9,608.5 351.9,607.8 355.9,607.0 359.9,606.3 363.9,605.5 367.9,604.7 371.9,604.0 375.9,603.2 379.9,602.4 383.9,601.6 387.9,600.7 391.9,599.9 395.9,599.1 399.9,598.2 403.9,597.3 407.9,596.4 411.9,595.5 415.9,594.6 419.9,593.7 423.9,592.8 427.9,591.8 431.9,590.8 435.9,589.9 439.9,588.9 443.9,587.8 447.9,586.8 451.9,585.7 455.9,584.7 459.9,583.6 463.9,582.5 467.9,581.3 471.9,580.2 475.9,579.0 479.9,577.8 483.9,576.6 487.9,575.4 491.9,574.1 495.9,572.8 499.9,571.5 503.9,570.2 507.9,568.9 511.9,567.5 515.9,566.1 519.9,564.7 523.9,563.2 527.9,561.7 531.9,560.2 535.9,558.7 539.9,557.2 543.9,555.6 547.9,554.0 551.9,552.3 555.9,550.7 559.9,549.0 563.9,547.3 567.9,545.5 571.9,543.7 575.9,541.9 579.9,540.1 583.9,538.2 587.9,536.3 591.9,534.4 595.9,532.4 599.9,530.4 603.9,528.4 607.9,526.4 611.9,524.3 615.9,522.3 619.9,520.1 623.9,518.0 627.9,515.8 631.9,513.6 635.9,511.4 639.9,509.2 643.9,506.9 647.9,504.6 651.9,502.3 655.9,500.0 659.9,497.6 663.9,495.2 667.9,492.8 671.9,490.3 675.9,487.6 679.9,484.8 683.9,481.9 687.9,478.8 691.9,475.6 695.9,472.2 699.9,468.8 703.9,465.4 707.9,461.9 711.9,458.4 715.9,454.9 719.9,451.4 723.9,448.0 727.9,444.6 731.9,441.2 735.9,437.9 739.9,434.5 743.9,431.2 747.9,427.9 751.9,424.7 755.9,421.4 759.9,418.2 763.9,415.0 767.9,411.9 771.9,408.7 775.9,405.6 779.9,402.5 783.9,399.4 787.9,396.3 791.9,393.3 795.9,390.3 799.9,387.4 803.9,384.5 807.9,381.7 811.9,379.1 815.9,376.5 819.9,374.0 823.9,371.6 827.9,369.4 831.9,367.2 835.9,365.1 839.9,363.0 843.9,361.0 847.9,359.0 851.9,357.0 855.9,355.1 859.9,353.1 863.9,351.2 867.9,349.3 871.9,347.5 875.9,345.6 879.9,343.8 883.9,342.0 887.9,340.2 891.9,338.4 895.9,336.7 899.9,334.9 903.9,333.2 907.9,331.5 911.9,329.8 915.9,328.1 919.9,326.4 923.9,324.8 927.9,323.1 931.9,321.5 935.9,319.8 939.9,318.2 943.9,316.6 947.9,315.0 951.9,313.4 955.9,311.7 959.9,310.1 963.9,308.6 967.9,307.0 971.9,305.4 975.9,303.8 979.9,302.2 983.9,300.7 987.9,299.1 991.9,297.5 995.9,296.0 999.9,294.4 1003.9,292.9 1007.9,291.3 1011.9,289.8 1015.9,288.2 1019.9,286.7 1023.9,285.1 1027.9,283.6 1031.9,282.0 1035.9,280.5 1039.9,278.9 1043.9,277.4 1047.9,275.8 1051.9,274.3 1055.9,272.7 1059.9,271.2 1063.9,269.6 1067.9,268.1 1071.9,266.5 1075.9,265.0 1079.9,263.4 1084.5,261.6"/>
<polyline fill="none" stroke="#ff0000" stroke-width="6" stroke-linecap="round" stroke-linejoin="round" points="242.7,489.5 246.7,489.4 250.7,489.4 254.7,489.3 258.7,489.2 262.7,489.1 266.7,489.0 270.7,488.9 274.7,488.8 278.7,488.7 282.7,488.5 286.7,488.4 290.7,488.2 294.7,488.1 298.7,487.9 302.7,487.8 306.7,487.6 310.7,487.4 314.7,487.2 318.7,487.0 322.7,486.8 326.7,486.6 330.7,486.3 334.7,486.1 338.7,485.8 342.7,485.6 346.7,485.3 350.7,485.0 354.7,484.8 358.7,484.5 362.7,484.2 366.7,483.8 370.7,483.5 374.7,483.2 378.7,482.8 382.7,482.5 386.7,482.1 390.7,481.7 394.7,481.3 398.7,480.9 402.7,480.5 406.7,480.1 410.7,479.6 414.7,479.2 418.7,478.7 422.7,478.2 426.7,477.8 430.7,477.2 434.7,476.7 438.7,476.2 442.7,475.7 446.7,475.1 450.7,474.5 454.7,474.0 458.7,473.4 462.7,472.8 466.7,472.1 470.7,471.5 474.7,470.9 478.7,470.2 482.7,469.5 486.7,468.8 490.7,468.1 494.7,467.4 498.7,466.7 502.7,465.9 506.7,465.1 510.7,464.4 514.7,463.6 518.7,462.7 522.7,461.9 526.7,461.1 530.7,460.2 534.7,459.3 538.7,458.4 542.7,457.5 546.7,456.6 550.7,455.6 554.7,454.7 558.7,453.7 562.7,452.7 566.7,451.7 570.7,450.7 574.7,449.6 578.7,448.5 582.7,447.5 586.7,446.4 590.7,445.2 594.7,444.1 598.7,442.9 602.7,441.8 606.7,440.6 610.7,439.4 614.7,438.1 618.7,436.9 622.7,435.6 626.7,434.3 630.7,433.0 634.7,431.7 638.7,430.3 642.7,428.9 646.7,427.5 650.7,426.1 654.7,424.7 658.7,423.2 662.7,421.8 666.7,420.3 670.7,418.8 674.7,417.2 678.7,415.7 682.7,414.1 686.7,412.5 690.7,410.9 694.7,409.2 698.7,407.5 702.7,405.8 706.7,404.1 710.7,402.4 714.7,400.6 718.7,398.9 722.7,397.1 726.7,395.2 730.7,393.4 734.7,391.5 738.7,389.6 742.7,387.7 746.7,385.7 750.7,383.8 754.7,381.8 758.7,379.8 762.7,377.7 766.7,375.7 770.7,373.6 774.7,371.5 778.7,369.3 782.7,367.2 786.7,365.0 790.7,362.8 794.7,360.5 798.7,358.3 802.7,356.0 806.7,353.7 810.7,351.4 814.7,349.1 818.7,346.8 822.7,344.4 826.7,342.1 830.7,339.7 834.7,337.3 838.7,335.0 842.7,332.6 846.7,330.2 850.7,327.8 854.7,325.5 858.7,323.1 862.7,320.7 866.7,318.3 870.7,316.0 874.7,313.6 878.7,311.3 882.7,308.9 886.7,306.6 890.7,304.3 894.7,302.0 898.7,299.7 902.7,297.4 906.7,295.2 910.7,293.0 914.7,290.8 918.7,288.6 922.7,286.4 926.7,284.3 930.7,282.2 934.7,280.1 938.7,278.1 942.7,276.0 946.7,274.1 950.7,272.1 954.7,270.2 958.7,268.3 962.7,266.4 966.7,264.6 970.7,262.8 974.7,261.0 978.7,259.2 982.7,257.5 986.7,255.8 990.7,254.1 994.7,252.4 998.7,250.8 1002.7,249.2 1006.7,247.5 1010.7,245.9 1014.7,244.4 1018.7,242.8 1022.7,241.3 1026.7,239.7 1030.7,238.2 1034.7,236.7 1038.7,235.2 1042.7,233.7 1046.7,232.2 1050.7,230.8 1054.7,229.3 1058.7,227.9 1062.7,226.4 1066.7,225.0 1070.7,223.6 1074.7,222.1 1078.7,220.7 1084.5,218.6"/>
<polyline fill="none" stroke="#ff0000" stroke-width="6" stroke-linecap="round" stroke-linejoin="round" points="243.9,362.2 247.9,362.2 251.9,362.2 255.9,362.2 259.9,362.2 263.9,362.3 267.9,362.3 271.9,362.3 275.9,362.3 279.9,362.3 283.9,362.4 287.9,362.4 291.9,362.4 295.9,362.4 299.9,362.4 303.9,362.5 307.9,362.5 311.9,362.5 315.9,362.5 319.9,362.5 323.9,362.6 327.9,362.6 331.9,362.6 335.9,362.6 339.9,362.6 343.9,362.6 347.9,362.6 351.9,362.6 355.9,362.6 359.9,362.6 363.9,362.6 367.9,362.6 371.9,362.6 375.9,362.5 379.9,362.5 383.9,362.5 387.9,362.5 391.9,362.4 395.9,362.4 399.9,362.3 403.9,362.3 407.9,362.2 411.9,362.2 415.9,362.1 419.9,362.0 423.9,361.9 427.9,361.9 431.9,361.8 435.9,361.7 439.9,361.6 443.9,361.5 447.9,361.4 451.9,361.2 455.9,361.1 459.9,361.0 463.9,360.8 467.9,360.7 471.9,360.5 475.9,360.3 479.9,360.2 483.9,360.0 487.9,359.8 491.9,359.6 495.9,359.4 499.9,359.2 503.9,358.9 507.9,358.7 511.9,358.4 515.9,358.2 519.9,357.9 523.9,357.6 527.9,357.3 531.9,357.1 535.9,356.7 539.9,356.4 543.9,356.1 547.9,355.8 551.9,355.4 555.9,355.0 559.9,354.7 563.9,354.3 567.9,353.9 571.9,353.5 575.9,353.0 579.9,352.6 583.9,352.2 587.9,351.7 591.9,351.2 595.9,350.7 599.9,350.2 603.9,349.7 607.9,349.2 611.9,348.7 615.9,348.1 619.9,347.5 623.9,346.9 627.9,346.3 631.9,345.7 635.9,345.1 639.9,344.5 643.9,343.8 647.9,343.1 651.9,342.4 655.9,341.7 659.9,341.0 663.9,340.3 667.9,339.5 671.9,338.8 675.9,338.0 679.9,337.2 683.9,336.4 687.9,335.5 691.9,334.7 695.9,333.8 699.9,332.9 703.9,332.0 707.9,331.1 711.9,330.1 715.9,329.2 719.9,328.2 723.9,327.2 727.9,326.2 731.9,325.2 735.9,324.1 739.9,323.0 743.9,321.9 747.9,320.8 751.9,319.7 755.9,318.6 759.9,317.4 763.9,316.2 767.9,315.0 771.9,313.7 775.9,312.5 779.9,311.2 783.9,309.9 787.9,308.6 791.9,307.3 795.9,305.9 799.9,304.5 803.9,303.1 807.9,301.7 811.9,300.2 815.9,298.8 819.9,297.3 823.9,295.8 827.9,294.2 831.9,292.7 835.9,291.1 839.9,289.5 843.9,287.9 847.9,286.2 851.9,284.6 855.9,282.9 859.9,281.2 863.9,279.5 867.9,277.8 871.9,276.0 875.9,274.3 879.9,272.5 883.9,270.7 887.9,268.9 891.9,267.1 895.9,265.3 899.9,263.5 903.9,261.6 907.9,259.8 911.9,257.9 915.9,256.1 919.9,254.2 923.9,252.3 927.9,250.4 931.9,248.6 935.9,246.7 939.9,244.8 943.9,242.9 947.9,241.0 951.9,239.1 955.9,237.2 959.9,235.3 963.9,233.4 967.9,231.5 971.9,229.6 975.9,227.7 979.9,225.8 983.9,223.9 987.9,222.0 991.9,220.1 995.9,218.2 999.9,216.3 1003.9,214.5 1007.9,212.6 1011.9,210.7 1015.9,208.9 1019.9,207.1 1023.9,205.2 1027.9,203.4 1031.9,201.6 1035.9,199.8 1039.9,198.0 1043.9,196.3 1047.9,194.5 1051.9,192.8 1055.9,191.1 1059.9,189.4 1063.9,187.7 1067.9,186.0 1071.9,184.3 1075.9,182.7 1079.9,181.1 1084.5,179.2"/>
<polyline fill="none" stroke="#ff0000" stroke-width="6" stroke-linecap="round" stroke-linejoin="round" points="240.0,266.5 244.0,266.3 248.0,266.1 252.0,265.9 256.0,265.7 260.0,265.5 264.0,265.3 268.0,265.2 272.0,265.0 276.0,264.8 280.0,264.7 284.0,264.6 288.0,264.4 292.0,264.3 296.0,264.2 300.0,264.1 304.0,264.0 308.0,263.9 312.0,263.8 316.0,263.7 320.0,263.6 324.0,263.6 328.0,263.5 332.0,263.4 336.0,263.4 340.0,263.3 344.0,263.3 348.0,263.3 352.0,263.2 356.0,263.2 360.0,263.2 364.0,263.1 368.0,263.1 372.0,263.1 376.0,263.1 380.0,263.1 384.0,263.1 388.0,263.1 392.0,263.1 396.0,263.1 400.0,263.1 404.0,263.1 408.0,263.1 412.0,263.1 416.0,263.1 420.0,263.2 424.0,263.2 428.0,263.2 432.0,263.2 436.0,263.2 440.0,263.2 444.0,263.3 448.0,263.3 452.0,263.3 456.0,263.3 460.0,263.3 464.0,263.3 468.0,263.4 472.0,263.4 476.0,263.4 480.0,263.4 484.0,263.4 488.0,263.4 492.0,263.4 496.0,263.4 500.0,263.4 504.0,263.4 508.0,263.4 512.0,263.4 516.0,263.4 520.0,263.4 524.0,263.3 528.0,263.3 532.0,263.3 536.0,263.2 540.0,263.2 544.0,263.2 548.0,263.1 552.0,263.1 556.0,263.0 560.0,262.9 564.0,262.9 568.0,262.8 572.0,262.7 576.0,262.6 580.0,262.5 584.0,262.4 588.0,262.3 592.0,262.2 596.0,262.1 600.0,261.9 604.0,261.8 608.0,261.6 612.0,261.5 616.0,261.3 620.0,261.1 624.0,261.0 628.0,260.8 632.0,260.6 636.0,260.4 640.0,260.2 644.0,259.9 648.0,259.7 652.0,259.4 656.0,259.2 660.0,258.9 664.0,258.6 668.0,258.3 672.0,258.0 676.0,257.7 680.0,257.4 684.0,257.1 688.0,256.7 692.0,256.4 696.0,256.0 700.0,255.6 704.0,255.2 708.0,254.8 712.0,254.4 716.0,253.9 720.0,253.5 724.0,253.0 728.0,252.6 732.0,252.1 736.0,251.6 740.0,251.0 744.0,250.5 748.0,250.0 752.0,249.4 756.0,248.8 760.0,248.2 764.0,247.6 768.0,247.0 772.0,246.3 776.0,245.7 780.0,245.0 784.0,244.3 788.0,243.6 792.0,242.9 796.0,242.1 800.0,241.4 804.0,240.6 808.0,239.8 812.0,239.0 816.0,238.2 820.0,237.3 824.0,236.5 828.0,235.6 832.0,234.7 836.0,233.7 840.0,232.8 844.0,231.8 848.0,230.9 852.0,229.9 856.0,228.8 860.0,227.8 864.0,226.7 868.0,225.6 872.0,224.5 876.0,223.4 880.0,222.3 884.0,221.1 888.0,219.9 892.0,218.7 896.0,217.5 900.0,216.2 904.0,214.9 908.0,213.7 912.0,212.4 916.0,211.0 920.0,209.7 924.0,208.3 928.0,206.9 932.0,205.5 936.0,204.1 940.0,202.7 944.0,201.2 948.0,199.8 952.0,198.3 956.0,196.8 960.0,195.3 964.0,193.8 968.0,192.2 972.0,190.7 976.0,189.1 980.0,187.5 984.0,185.9 988.0,184.3 992.0,182.7 996.0,181.1 1000.0,179.4 1004.0,177.8 1008.0,176.1 1012.0,174.4 1016.0,172.8 1020.0,171.1 1024.0,169.4 1028.0,167.6 1032.0,165.9 1036.0,164.2 1040.0,162.4 1044.0,160.7 1048.0,158.9 1052.0,157.2 1056.0,155.4 1060.0,153.6 1064.0,151.9 1068.0,150.1 1072.0,148.3 1076.0,146.5 1080.0,144.7 1084.5,142.7"/>
<polyline fill="none" stroke="#ff0000" stroke-width="6" stroke-linecap="round" stroke-linejoin="round" points="242.5,194.1 246.5,194.1 250.5,194.1 254.5,194.1 258.5,194.1 262.5,194.1 266.5,194.1 270.5,194.1 274.5,194.0 278.5,194.0 282.5,194.0 286.5,194.0 290.5,194.0 294.5,194.0 298.5,194.0 302.5,194.0 306.5,194.0 310.5,194.0 314.5,193.9 318.5,193.9 322.5,193.9 326.5,193.9 330.5,193.9 334.5,193.9 338.5,193.9 342.5,193.8 346.5,193.8 350.5,193.8 354.5,193.8 358.5,193.8 362.5,193.8 366.5,193.8 370.5,193.7 374.5,193.7 378.5,193.7 382.5,193.7 386.5,193.7 390.5,193.6 394.5,193.6 398.5,193.6 402.5,193.6 406.5,193.5 410.5,193.5 414.5,193.5 418.5,193.5 422.5,193.4 426.5,193.4 430.5,193.4 434.5,193.4 438.5,193.3 442.5,193.3 446.5,193.3 450.5,193.2 454.5,193.2 458.5,193.2 462.5,193.1 466.5,193.1 470.5,193.1 474.5,193.0 478.5,193.0 482.5,192.9 486.5,192.9 490.5,192.8 494.5,192.8 498.5,192.8 502.5,192.7 506.5,192.7 510.5,192.6 514.5,192.6 518.5,192.5 522.5,192.4 526.5,192.4 530.5,192.3 534.5,192.3 538.5,192.2 542.5,192.1 546.5,192.1 550.5,192.0 554.5,191.9 558.5,191.8 562.5,191.8 566.5,191.7 570.5,191.6 574.5,191.5 578.5,191.4 582.5,191.3 586.5,191.3 590.5,191.2 594.5,191.1 598.5,191.0 602.5,190.9 606.5,190.8 610.5,190.6 614.5,190.5 618.5,190.4 622.5,190.3 626.5,190.2 630.5,190.0 634.5,189.9 638.5,189.8 642.5,189.6 646.5,189.5 650.5,189.4 654.5,189.2 658.5,189.0 662.5,188.9 666.5,188.7 670.5,188.5 674.5,188.4 678.5,188.2 682.5,188.0 686.5,187.8 690.5,187.6 694.5,187.4 698.5,187.2 702.5,187.0 706.5,186.8 710.5,186.5 714.5,186.3 718.5,186.1 722.5,185.8 726.5,185.6 730.5,185.3 734.5,185.0 738.5,184.8 742.5,184.5 746.5,184.2 750.5,183.9 754.5,183.6 758.5,183.3 762.5,182.9 766.5,182.6 770.5,182.2 774.5,181.9 778.5,181.5 782.5,181.2 786.5,180.8 790.5,180.4 794.5,180.0 798.5,179.5 802.5,179.1 806.5,178.7 810.5,178.2 814.5,177.8 818.5,177.3 822.5,176.8 826.5,176.3 830.5,175.8 834.5,175.3 838.5,174.7 842.5,174.2 846.5,173.6 850.5,173.0 854.5,172.4 858.5,171.8 862.5,171.2 866.5,170.5 870.5,169.9 874.5,169.2 878.5,168.5 882.5,167.8 886.5,167.1 890.5,166.3 894.5,165.5 898.5,164.8 902.5,164.0 906.5,163.2 910.5,162.3 914.5,161.5 918.5,160.6 922.5,159.7 926.5,158.8 930.5,157.9 934.5,156.9 938.5,155.9 942.5,155.0 946.5,153.9 950.5,152.9 954.5,151.9 958.5,150.8 962.5,149.7 966.5,148.6 970.5,147.4 974.5,146.3 978.5,145.1 982.5,143.9 986.5,142.6 990.5,141.4 994.5,140.1 998.5,138.8 1002.5,137.5 1006.5,136.1 1010.5,134.8 1014.5,133.4 1018.5,132.0 1022.5,130.5 1026.5,129.1 1030.5,127.6 1034.5,126.1 1038.5,124.5 1042.5,123.0 1046.5,121.4 1050.5,119.8 1054.5,118.2 1058.5,116.5 1062.5,114.8 1066.5,113.1 1070.5,111.4 1074.5,109.7 1078.5,107.9 1084.5,105.2"/>
<polyline fill="none" stroke="#ff0000" stroke-width="6" stroke-linecap="round" stroke-linejoin="round" points="245.0,136.5 249.0,136.5 253.0,136.5 257.0,136.5 261.0,136.5 265.0,136.5 269.0,136.5 273.0,136.5 277.0,136.5 281.0,136.5 285.0,136.5 289.0,136.5 293.0,136.5 297.0,136.5 301.0,136.5 305.0,136.5 309.0,136.5 313.0,136.5 317.0,136.5 321.0,136.5 325.0,136.5 329.0,136.5 333.0,136.5 337.0,136.5 341.0,136.5 345.0,136.5 349.0,136.5 353.0,136.5 357.0,136.5 361.0,136.5 365.0,136.5 369.0,136.4 373.0,136.4 377.0,136.4 381.0,136.4 385.0,136.4 389.0,136.4 393.0,136.4 397.0,136.4 401.0,136.4 405.0,136.4 409.0,136.4 413.0,136.4 417.0,136.4 421.0,136.4 425.0,136.4 429.0,136.4 433.0,136.4 437.0,136.4 441.0,136.4 445.0,136.4 449.0,136.3 453.0,136.3 457.0,136.3 461.0,136.3 465.0,136.3 469.0,136.3 473.0,136.3 477.0,136.3 481.0,136.3 485.0,136.3 489.0,136.3 493.0,136.2 497.0,136.2 501.0,136.2 505.0,136.2 509.0,136.2 513.0,136.2 517.0,136.2 521.0,136.2 525.0,136.1 529.0,136.1 533.0,136.1 537.0,136.1 541.0,136.1 545.0,136.1 549.0,136.0 553.0,136.0 557.0,136.0 561.0,136.0 565.0,136.0 569.0,135.9 573.0,135.9 577.0,135.9 581.0,135.9 585.0,135.8 589.0,135.8 593.0,135.8 597.0,135.8 601.0,135.7 605.0,135.7 609.0,135.7 613.0,135.6 617.0,135.6 621.0,135.6 625.0,135.5 629.0,135.5 633.0,135.4 637.0,135.4 641.0,135.3 645.0,135.3 649.0,135.2 653.0,135.2 657.0,135.1 661.0,135.1 665.0,135.0 669.0,135.0 673.0,134.9 677.0,134.8 681.0,134.8 685.0,134.7 689.0,134.6 693.0,134.6 697.0,134.5 701.0,134.4 705.0,134.3 709.0,134.2 713.0,134.1 717.0,134.1 721.0,134.0 725.0,133.9 729.0,133.7 733.0,133.6 737.0,133.5 741.0,133.4 745.0,133.3 749.0,133.2 753.0,133.0 757.0,132.9 761.0,132.7 765.0,132.6 769.0,132.4 773.0,132.3 777.0,132.1 781.0,132.0 785.0,131.8 789.0,131.6 793.0,131.4 797.0,131.2 801.0,131.0 805.0,130.8 809.0,130.6 813.0,130.3 817.0,130.1 821.0,129.8 825.0,129.6 829.0,129.3 833.0,129.0 837.0,128.8 841.0,128.5 845.0,128.2 849.0,127.8 853.0,127.5 857.0,127.2 861.0,126.8 865.0,126.4 869.0,126.1 873.0,125.7 877.0,125.3 881.0,124.8 885.0,124.4 889.0,123.9 893.0,123.5 897.0,123.0 901.0,122.5 905.0,122.0 909.0,121.4 913.0,120.9 917.0,120.3 921.0,119.7 925.0,119.1 929.0,118.5 933.0,117.8 937.0,117.1 941.0,116.4 945.0,115.7 949.0,115.0 953.0,114.2 957.0,113.4 961.0,112.6 965.0,111.7 969.0,110.9 973.0,110.0 977.0,109.0 981.0,108.1 985.0,107.1 989.0,106.1 993.0,105.1 997.0,104.0 1001.0,102.9 1005.0,101.8 1009.0,100.6 1013.0,99.4 1017.0,98.2 1021.0,96.9 1025.0,95.6 1029.0,94.3 1033.0,93.0 1037.0,91.6 1041.0,90.1 1045.0,88.7 1049.0,87.2 1053.0,85.6 1057.0,84.1 1061.0,82.5 1065.0,80.8 1069.0,79.1 1073.0,77.4 1077.0,75.7 1084.5,72.3"/>
<polyline fill="none" stroke="#ff0000" stroke-width="6" stroke-linecap="round" stroke-linejoin="round" points="240.3,93.8 244.3,93.8 248.3,93.8 252.3,93.8 256.3,93.8 260.3,93.8 264.3,93.8 268.3,93.8 272.3,93.8 276.3,93.8 280.3,93.8 284.3,93.8 288.3,93.8 292.3,93.8 296.3,93.8 300.3,93.7 304.3,93.7 308.3,93.7 312.3,93.7 316.3,93.7 320.3,93.7 324.3,93.7 328.3,93.7 332.3,93.7 336.3,93.7 340.3,93.7 344.3,93.7 348.3,93.7 352.3,93.7 356.3,93.7 360.3,93.7 364.3,93.7 368.3,93.7 372.3,93.7 376.3,93.7 380.3,93.7 384.3,93.7 388.3,93.7 392.3,93.7 396.3,93.7 400.3,93.6 404.3,93.6 408.3,93.6 412.3,93.6 416.3,93.6 420.3,93.6 424.3,93.6 428.3,93.6 432.3,93.6 436.3,93.6 440.3,93.6 444.3,93.6 448.3,93.6 452.3,93.5 456.3,93.5 460.3,93.5 464.3,93.5 468.3,93.5 472.3,93.5 476.3,93.5 480.3,93.5 484.3,93.5 488.3,93.4 492.3,93.4 496.3,93.4 500.3,93.4 504.3,93.4 508.3,93.4 512.3,93.4 516.3,93.3 520.3,93.3 524.3,93.3 528.3,93.3 532.3,93.3 536.3,93.3 540.3,93.2 544.3,93.2 548.3,93.2 552.3,93.2 556.3,93.1 560.3,93.1 564.3,93.1 568.3,93.1 572.3,93.0 576.3,93.0 580.3,93.0 584.3,93.0 588.3,92.9 592.3,92.9 596.3,92.9 600.3,92.8 604.3,92.8 608.3,92.8 612.3,92.7 616.3,92.7 620.3,92.7 624.3,92.6 628.3,92.6 632.3,92.5 636.3,92.5 640.3,92.4 644.3,92.4 648.3,92.3 652.3,92.3 656.3,92.2 660.3,92.2 664.3,92.1 668.3,92.1 672.3,92.0 676.3,91.9 680.3,91.9 684.3,91.8 688.3,91.7 692.3,91.7 696.3,91.6 700.3,91.5 704.3,91.4 708.3,91.4 712.3,91.3 716.3,91.2 720.3,91.1 724.3,91.0 728.3,90.9 732.3,90.8 736.3,90.7 740.3,90.6 744.3,90.5 748.3,90.4 752.3,90.2 756.3,90.1 760.3,90.0 764.3,89.9 768.3,89.7 772.3,89.6 776.3,89.4 780.3,89.3 784.3,89.1 788.3,89.0 792.3,88.8 796.3,88.6 800.3,88.5 804.3,88.3 808.3,88.1 812.3,87.9 816.3,87.7 820.3,87.5 824.3,87.3 828.3,87.1 832.3,86.8 836.3,86.6 840.3,86.3 844.3,86.1 848.3,85.8 852.3,85.6 856.3,85.3 860.3,85.0 864.3,84.7 868.3,84.4 872.3,84.1 876.3,83.8 880.3,83.4 884.3,83.1 888.3,82.7 892.3,82.4 896.3,82.0 900.3,81.6 904.3,81.2 908.3,80.8 912.3,80.4 916.3,79.9 920.3,79.5 924.3,79.0 928.3,78.5 932.3,78.0 936.3,77.5 940.3,77.0 944.3,76.5 948.3,75.9 952.3,75.3 956.3,74.8 960.3,74.2 964.3,73.5 968.3,72.9 972.3,72.2 976.3,71.6 980.3,70.9 984.3,70.2 988.3,69.4 992.3,68.7 996.3,67.9 1000.3,67.1 1004.3,66.3 1008.3,65.5 1012.3,64.6 1016.3,63.7 1020.3,62.8 1024.3,61.9 1028.3,60.9 1032.3,60.0 1036.3,59.0 1040.3,57.9 1044.3,56.9 1048.3,55.8 1052.3,54.7 1056.3,53.6 1060.3,52.4 1064.3,51.3 1068.3,50.1 1072.3,48.8 1076.3,47.6 1080.3,46.3 1084.5,44.9"/>
<rect x="982.4" y="399.5" width="189.7" height="436" fill="#fff" stroke="#000" stroke-width="1.2"/>
<line x1="986.2" x2="1056.1" y1="424.5" y2="424.5" stroke="#303030" stroke-width="1.3"/>
<use href="#s300" x="1020.7" y="424.5"/>
<text font-size="30" y="435.2"><tspan x="1063.8">300</tspan><tspan x="1116.6" dy="-14.8" font-size="18.6">0</tspan><tspan x="1127" dy="14.8" font-size="30">c</tspan></text>
<line x1="986.2" x2="1056.1" y1="468.3" y2="468.3" stroke="#0000ff" stroke-width="1.3"/>
<use href="#s325" x="1020.7" y="468.3"/>
<text font-size="30" y="479.0"><tspan x="1063.8">325</tspan><tspan x="1116.6" dy="-14.8" font-size="18.6">0</tspan><tspan x="1127" dy="14.8" font-size="30">c</tspan></text>
<line x1="986.2" x2="1056.1" y1="512.0" y2="512.0" stroke="#008000" stroke-width="1.3"/>
<use href="#s350" x="1020.7" y="512.0"/>
<text font-size="30" y="522.7"><tspan x="1063.8">350</tspan><tspan x="1116.6" dy="-14.8" font-size="18.6">0</tspan><tspan x="1127" dy="14.8" font-size="30">c</tspan></text>
<line x1="986.2" x2="1056.1" y1="555.8" y2="555.8" stroke="#8000ff" stroke-width="1.3"/>
<use href="#s375" x="1020.7" y="555.8"/>
<text font-size="30" y="566.5"><tspan x="1063.8">375</tspan><tspan x="1116.6" dy="-14.8" font-size="18.6">0</tspan><tspan x="1127" dy="14.8" font-size="30">c</tspan></text>
<line x1="986.2" x2="1056.1" y1="599.6" y2="599.6" stroke="#800000" stroke-width="1.3"/>
<use href="#s400" x="1020.7" y="599.6"/>
<text font-size="30" y="610.3"><tspan x="1063.8">400</tspan><tspan x="1116.6" dy="-14.8" font-size="18.6">0</tspan><tspan x="1127" dy="14.8" font-size="30">c</tspan></text>
<line x1="986.2" x2="1056.1" y1="643.4" y2="643.4" stroke="#2a5a9a" stroke-width="1.3"/>
<use href="#s425" x="1020.7" y="643.4"/>
<text font-size="30" y="654.1"><tspan x="1063.8">425</tspan><tspan x="1116.6" dy="-14.8" font-size="18.6">0</tspan><tspan x="1127" dy="14.8" font-size="30">c</tspan></text>
<line x1="986.2" x2="1056.1" y1="687.1" y2="687.1" stroke="#a85800" stroke-width="1.3"/>
<use href="#s450" x="1020.7" y="687.1"/>
<text font-size="30" y="697.8"><tspan x="1063.8">450</tspan><tspan x="1116.6" dy="-14.8" font-size="18.6">0</tspan><tspan x="1127" dy="14.8" font-size="30">c</tspan></text>
<line x1="986.2" x2="1056.1" y1="730.9" y2="730.9" stroke="#c04090" stroke-width="1.3"/>
<use href="#s475" x="1020.7" y="730.9"/>
<text font-size="30" y="741.6"><tspan x="1063.8">475</tspan><tspan x="1116.6" dy="-14.8" font-size="18.6">0</tspan><tspan x="1127" dy="14.8" font-size="30">c</tspan></text>
<line x1="986.2" x2="1056.1" y1="774.7" y2="774.7" stroke="#363698" stroke-width="1.3"/>
<use href="#s500" x="1020.7" y="774.7"/>
<text font-size="30" y="785.4"><tspan x="1063.8">500</tspan><tspan x="1116.6" dy="-14.8" font-size="18.6">0</tspan><tspan x="1127" dy="14.8" font-size="30">c</tspan></text>
<line x1="987" x2="1055.5" y1="815" y2="815" stroke="#ff0000" stroke-width="6.5" stroke-linecap="round"/>
<text font-size="30.5" x="1073.2" y="825.2" textLength="95.6" lengthAdjust="spacingAndGlyphs">Fitting</text>
<path d="M158.5,16.7H1185.5V844.3H158.5ZM158.5,844.3H142M158.5,775.2H150M158.5,734.8H150M158.5,706.1H150M158.5,683.8H150M158.5,665.7H150M158.5,650.3H150M158.5,637.0H150M158.5,625.2H150M158.5,614.7H142M158.5,545.6H150M158.5,505.2H150M158.5,476.5H150M158.5,454.3H150M158.5,436.1H150M158.5,420.7H150M158.5,407.4H150M158.5,395.7H150M158.5,385.2H142M158.5,316.1H150M158.5,275.6H150M158.5,247.0H150M158.5,224.7H150M158.5,206.5H150M158.5,191.2H150M158.5,177.8H150M158.5,166.1H150M158.5,155.6H142M158.5,86.5H150M158.5,46.1H150M158.5,17.4H150M158.2,844.3V852.4M178.6,844.3V852.4M195.3,844.3V852.4M209.4,844.3V852.4M221.6,844.3V852.4M232.4,844.3V852.4M242.0,844.3V860.4M305.4,844.3V852.4M342.5,844.3V852.4M368.8,844.3V852.4M389.2,844.3V852.4M405.9,844.3V852.4M420.0,844.3V852.4M432.2,844.3V852.4M443.0,844.3V852.4M452.6,844.3V860.4M516.0,844.3V852.4M553.1,844.3V852.4M579.4,844.3V852.4M599.8,844.3V852.4M616.5,844.3V852.4M630.6,844.3V852.4M642.8,844.3V852.4M653.6,844.3V852.4M663.2,844.3V860.4M726.6,844.3V852.4M763.7,844.3V852.4M790.0,844.3V852.4M810.4,844.3V852.4M827.1,844.3V852.4M841.2,844.3V852.4M853.4,844.3V852.4M864.2,844.3V852.4M873.8,844.3V860.4M937.2,844.3V852.4M974.3,844.3V852.4M1000.6,844.3V852.4M1021.0,844.3V852.4M1037.7,844.3V852.4M1051.8,844.3V852.4M1064.0,844.3V852.4M1074.8,844.3V852.4M1084.4,844.3V860.4M1147.8,844.3V852.4M1184.9,844.3V852.4M260.8,16.7V24.9M363.5,16.7V32M466.1,16.7V24.9M568.8,16.7V32M671.5,16.7V24.9M774.2,16.7V32M876.8,16.7V24.9M979.5,16.7V32M1082.2,16.7V24.9M1185.5,88.3H1177.5M1185.5,169.8H1169.7M1185.5,251.4H1177.5M1185.5,332.9H1169.7M1185.5,414.5H1177.5M1185.5,496.1H1169.7M1185.5,577.6H1177.5M1185.5,659.1H1169.7M1185.5,740.7H1177.5M1185.5,822.2H1169.7" fill="none" stroke="#0000a0" stroke-width="6" stroke-linecap="round" stroke-linejoin="miter"/>
<text font-size="36" y="856.3"><tspan x="72">10</tspan><tspan x="112.5" dy="-17.7" font-size="20.5">-6</tspan></text>
<text font-size="36" y="626.7"><tspan x="72">10</tspan><tspan x="112.5" dy="-17.7" font-size="20.5">-5</tspan></text>
<text font-size="36" y="397.2"><tspan x="72">10</tspan><tspan x="112.5" dy="-17.7" font-size="20.5">-4</tspan></text>
<text font-size="36" y="167.6"><tspan x="72">10</tspan><tspan x="112.5" dy="-17.7" font-size="20.5">-3</tspan></text>
<text font-size="36.5" y="903.3"><tspan x="216.0">10</tspan><tspan x="256.3" dy="-17.4" font-size="20.5">2</tspan></text>
<text font-size="36.5" y="903.3"><tspan x="426.6">10</tspan><tspan x="466.9" dy="-17.4" font-size="20.5">3</tspan></text>
<text font-size="36.5" y="903.3"><tspan x="637.2">10</tspan><tspan x="677.5" dy="-17.4" font-size="20.5">4</tspan></text>
<text font-size="36.5" y="903.3"><tspan x="847.8">10</tspan><tspan x="888.1" dy="-17.4" font-size="20.5">5</tspan></text>
<text font-size="36.5" y="903.3"><tspan x="1058.4">10</tspan><tspan x="1098.7" dy="-17.4" font-size="20.5">6</tspan></text>
<text font-size="42" x="537" y="939.8" textLength="299" lengthAdjust="spacingAndGlyphs">Frequency(Hz)</text>
<text transform="translate(41.6,533.5) rotate(-90)" font-size="40" >σ</text>
<text transform="translate(56.5,506.5) rotate(-90)" font-size="26" >ac</text>
<text transform="translate(40.2,478.8) rotate(-90)" font-size="43" >(</text>
<text transform="translate(40.7,463.6) rotate(-90)" font-size="47" font-family="'Liberation Serif', serif" font-weight="normal">Ω</text>
<text transform="translate(19.6,431.3) rotate(-90)" font-size="25" font-family="'Liberation Serif', serif" font-weight="normal">−1</text>
<text transform="translate(41.2,403.5) rotate(-90)" font-size="42" >m</text>
<text transform="translate(19.2,364.5) rotate(-90)" font-size="23" >-1</text>
<text transform="translate(40.2,341.2) rotate(-90)" font-size="43" >)</text>
</svg>
</body></html>
